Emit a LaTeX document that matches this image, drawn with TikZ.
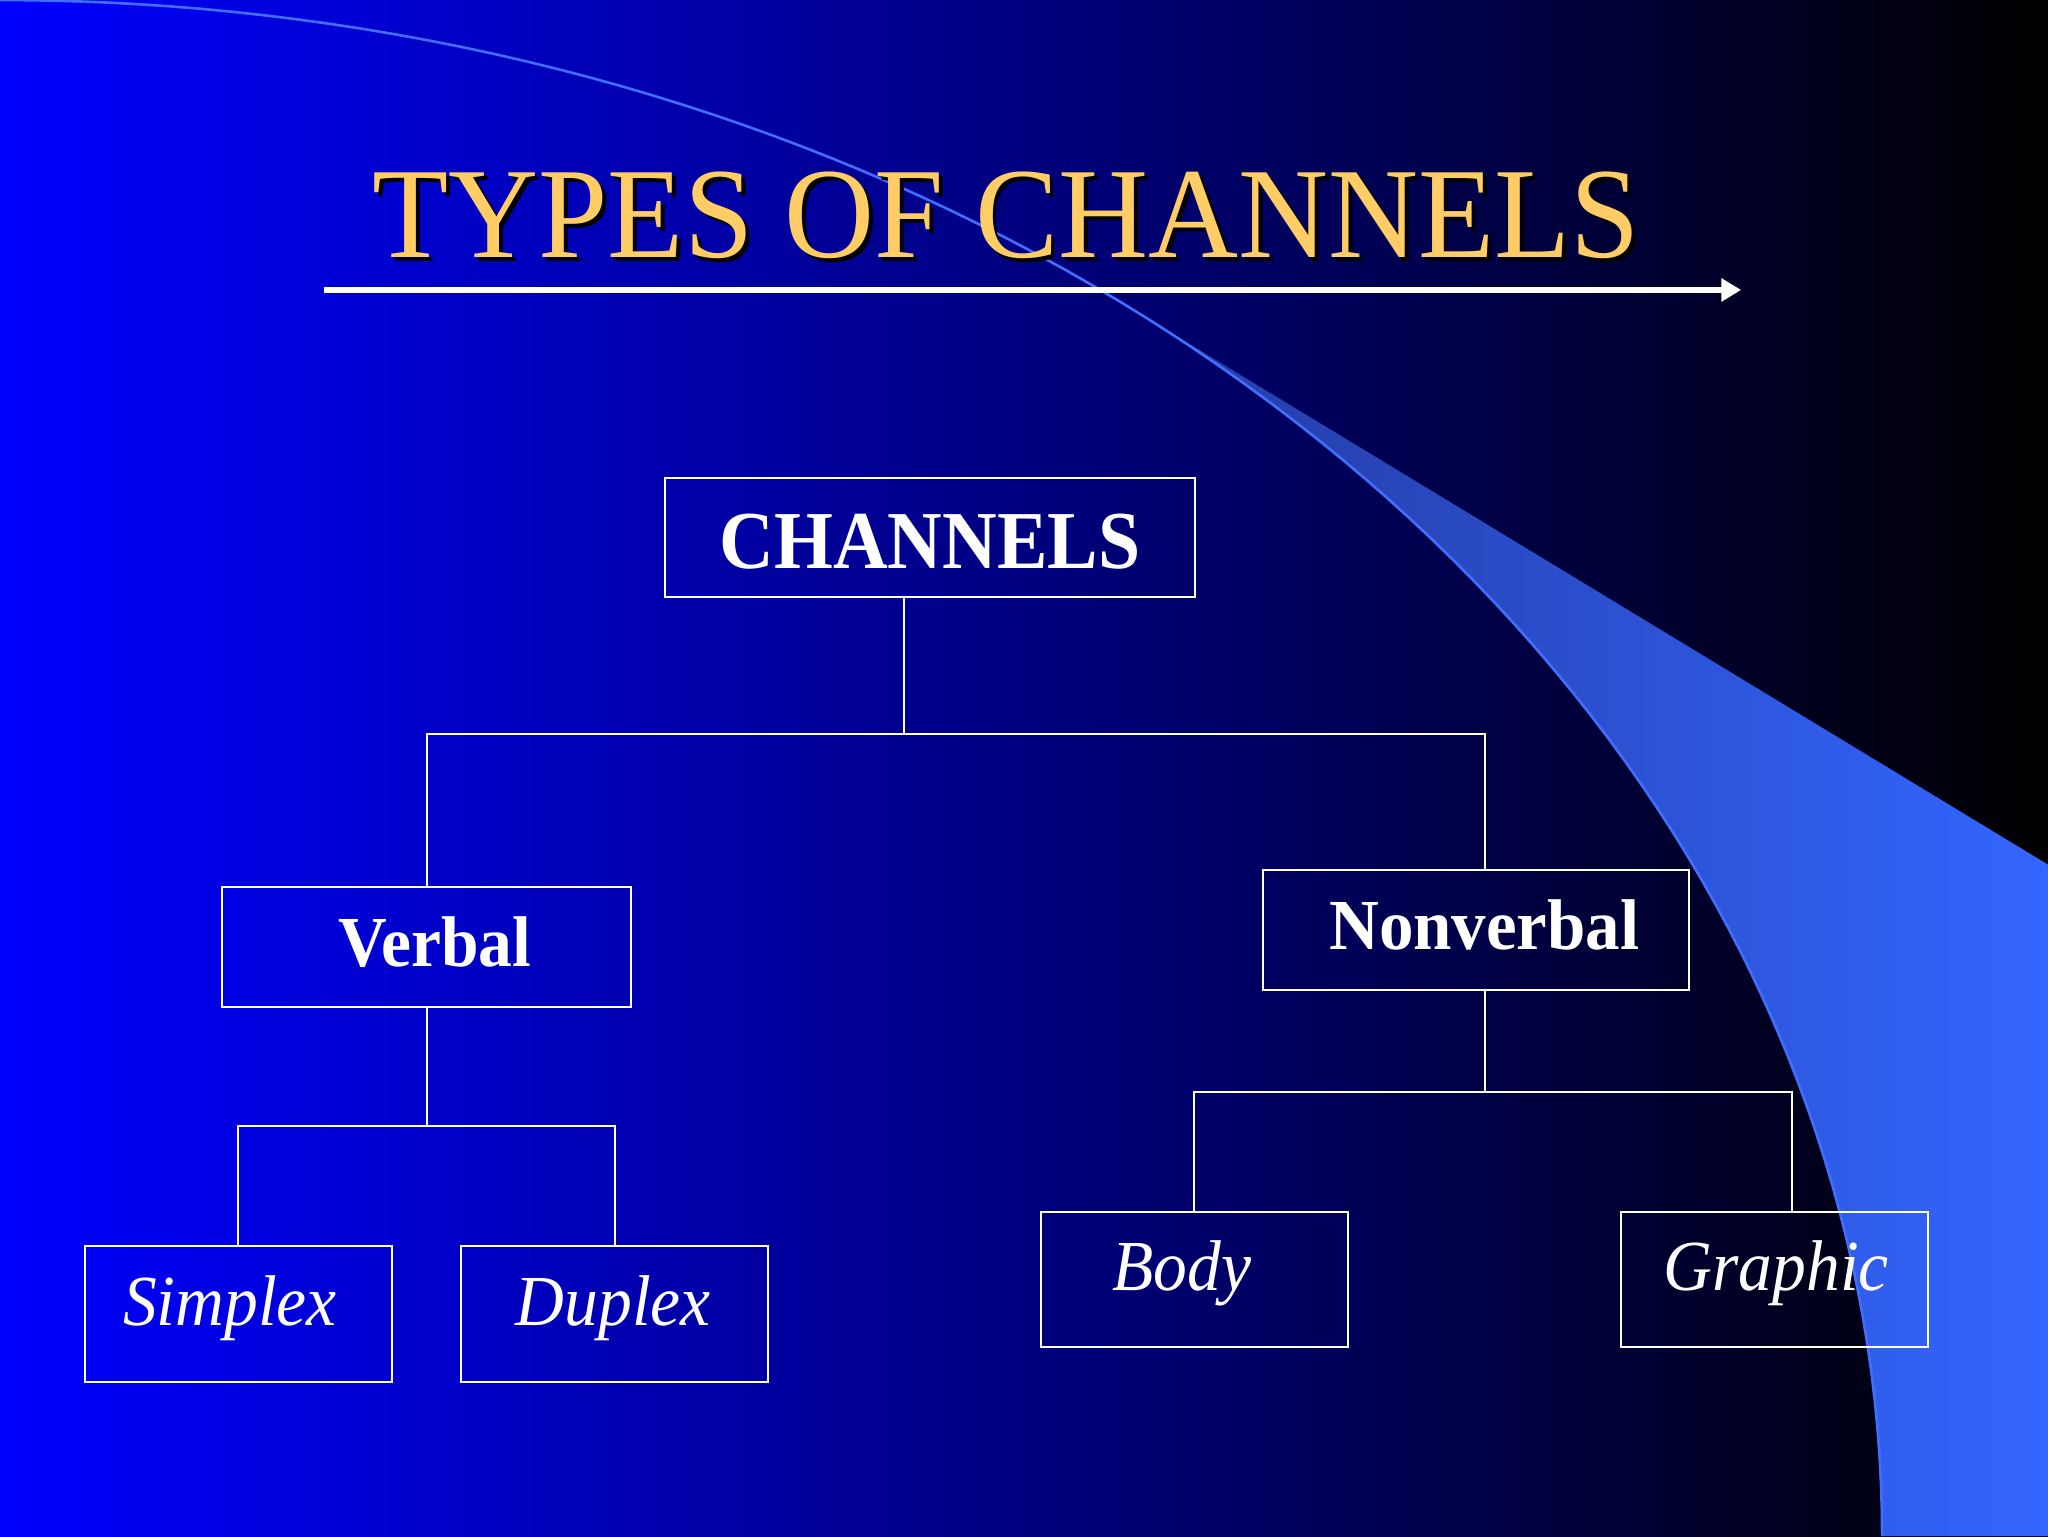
\documentclass[tikz,border=0pt]{standalone}
\usepackage{fontspec}
\setmainfont{Liberation Serif}
\usetikzlibrary{arrows.meta}
\definecolor{bgleft}{RGB}{0,0,255}
\definecolor{gold}{RGB}{255,204,102}
\definecolor{swline}{RGB}{64,110,255}
\definecolor{swleft}{RGB}{36,58,160}
\definecolor{swright}{RGB}{51,102,255}
\begin{document}
\begin{tikzpicture}[x=1pt,y=-1pt,
  box/.style={draw=white, line width=1.5pt, inner sep=0pt, fill=none},
  conn/.style={draw=white, line width=1.5pt, line join=miter},
  lbl/.style={anchor=base, text=white, inner sep=0pt},
  bsize/.style={font=\fontsize{55}{55}\selectfont\bfseries},
  isize/.style={font=\fontsize{55}{55}\selectfont\itshape}]
\useasboundingbox (0,0) rectangle (1568,1176);
% background
\shade[left color=bgleft, right color=black] (0,0) rectangle (1568,1176);
% swoosh
\shade[left color=swleft, right color=swright]
  plot[domain=37.5:90, samples=60, variable=\t] ({1441*sin(\t)}, {1176*(1-cos(\t))})
  -- (1568,1176) -- (1568,662) -- cycle;
\draw[swline, line width=2pt]
  plot[domain=0:90, samples=90, variable=\t] ({1441*sin(\t)}, {1176*(1-cos(\t))});
% title
\node[anchor=base west, inner sep=0pt, text=black] (titleshadow) at (288,200)
  {\scalebox{0.964}[1]{\fontsize{99}{99}\selectfont TYPES OF CHANNELS}};
\node[anchor=base west, inner sep=0pt, text=gold] (title) at (285,197)
  {\scalebox{0.964}[1]{\fontsize{99}{99}\selectfont TYPES OF CHANNELS}};
\coordinate (arrowstart) at (248,222);
\coordinate (arrowend) at (1333,222);
\draw[white, line width=4pt, -{Triangle[length=15pt,width=17pt]}] (arrowstart) -- (arrowend);
% boxes
\node[box, minimum width=406pt, minimum height=91pt] (ch) at (712,411.5) {};
\node[box, minimum width=313pt, minimum height=92pt] (verbal) at (326.5,725) {};
\node[box, minimum width=326pt, minimum height=92pt] (nonverbal) at (1130,712) {};
\node[box, minimum width=235pt, minimum height=104pt] (simplex) at (182.5,1006) {};
\node[box, minimum width=235pt, minimum height=104pt] (duplex) at (470.5,1006) {};
\node[box, minimum width=235pt, minimum height=103pt] (body) at (914.5,979.5) {};
\node[box, minimum width=235pt, minimum height=103pt] (graphic) at (1358.5,979.5) {};
% labels
\node[lbl, font=\fontsize{63}{63}\selectfont\bfseries] (chT) at (712,435) {\scalebox{0.92}[1]{CHANNELS}};
\node[lbl, bsize] (verbalT) at (333,740) {\scalebox{0.94}[1]{Verbal}};
\node[lbl, bsize] (nonverbalT) at (1136.5,727) {\scalebox{0.96}[1]{Nonverbal}};
\node[lbl, isize] (simplexT) at (176,1015) {\scalebox{0.94}[1]{Simplex}};
\node[lbl, isize] (duplexT) at (469.5,1015) {\scalebox{0.94}[1]{Duplex}};
\node[lbl, isize] (bodyT) at (905,988) {\scalebox{0.94}[1]{Body}};
\node[lbl, isize] (graphicT) at (1360,988) {\scalebox{0.94}[1]{Graphic}};
% connectors
\coordinate (jtop) at (692,562);
\coordinate (jl) at (327,562);
\coordinate (jr) at (1137,562);
\coordinate (jv) at (327,862);
\coordinate (jn) at (1137,836);
\coordinate (jg) at (1372,836);
\draw[conn] (ch.south -| jtop) -- (jtop);
\draw[conn] (verbal.north -| jl) |- (jtop) -| (nonverbal.north -| jr);
\draw[conn] (verbal.south -| jv) -- (jv);
\draw[conn] (simplex.north) |- (jv) -| (duplex.north);
\draw[conn] (nonverbal.south -| jn) -- (jn);
\draw[conn] (body.north) |- (jn) -| (graphic.north -| jg);
\end{tikzpicture}
\end{document}
